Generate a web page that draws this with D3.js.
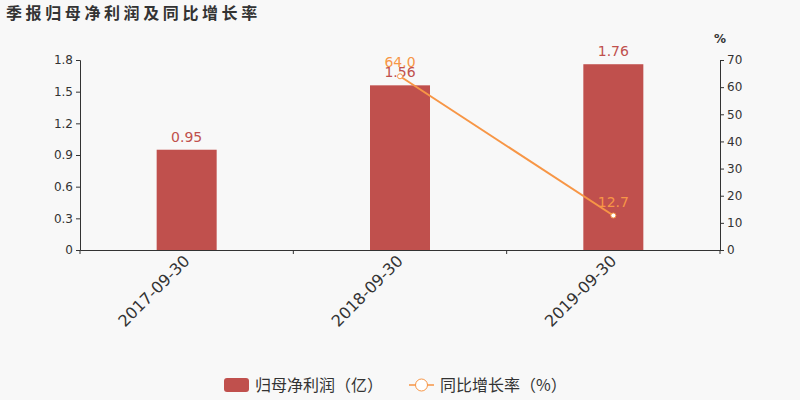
<!DOCTYPE html>
<html><head><meta charset="utf-8">
<script src="https://cdn.jsdelivr.net/npm/d3@7"></script>
<style>body{margin:0;background:#f8f8f8;font-family:"Noto Sans CJK SC","DejaVu Sans",sans-serif}</style>
</head><body><svg id="c" width="800" height="400"></svg>
<script>
const categories = ["2017-09-30", "2018-09-30", "2019-09-30"];
const profit = [0.95, 1.56, 1.76];
const growth = [null, 64.0, 12.7];
const leftTicks = [0, 0.3, 0.6, 0.9, 1.2, 1.5, 1.8];
const rightTicks = [0, 10, 20, 30, 40, 50, 60, 70];

const svg = d3.select("#c");
const L = 80, R = 720, T = 60, B = 250;
const barColor = "#c0504d", lineColor = "#f79646", axisColor = "#333";

svg.append("rect").attr("width", 800).attr("height", 400).attr("fill", "#f8f8f8");
svg.append("text").attr("x", 6).attr("y", 19).attr("font-size", 16).attr("font-weight", "bold")
  .attr("letter-spacing", 3.6).attr("fill", "#333").text("季报归母净利润及同比增长率");

const x = d3.scaleBand().domain(categories).range([L, R]);
const yL = d3.scaleLinear().domain([0, 1.8]).range([B, T]);
const yR = d3.scaleLinear().domain([0, 70]).range([B, T]);

// axes
const fmt = d => d === 0 ? "0" : d3.format(".1f")(d);
const gl = svg.append("g").attr("transform", `translate(${L},0)`)
  .call(d3.axisLeft(yL).tickValues(leftTicks).tickFormat(fmt).tickSize(4));
const gr = svg.append("g").attr("transform", `translate(${R},0)`)
  .call(d3.axisRight(yR).tickValues(rightTicks).tickSize(4));
const gx = svg.append("g").attr("transform", `translate(0,${B})`)
  .call(d3.axisBottom(x).tickSize(0).tickFormat(""));
[gl, gr, gx].forEach(g => {
  g.selectAll("path,line").attr("stroke", axisColor);
  g.selectAll("text").attr("fill", "#333").attr("font-size", 12).attr("font-family", "DejaVu Sans");
});
// boundary ticks on x axis
const bounds = categories.map(c => x(c)).concat([R]);
svg.selectAll(".xt").data(bounds).join("line")
  .attr("x1", d => d).attr("x2", d => d).attr("y1", B).attr("y2", B + 4).attr("stroke", axisColor);

svg.append("text").attr("x", 714).attr("y", 43).attr("font-size", 12).attr("font-family", "DejaVu Sans")
  .attr("font-weight", "bold").attr("fill", "#333").text("%");

// x labels
svg.selectAll(".xl").data(categories).join("text")
  .attr("font-size", 16).attr("font-family", "DejaVu Sans").attr("fill", "#333")
  .attr("text-anchor", "end")
  .attr("transform", d => `translate(${x(d) + x.bandwidth() / 2 + 4},${B + 12}) rotate(-45)`)
  .text(d => d);

// bars
const bw = 60;
svg.selectAll(".bar").data(profit).join("rect")
  .attr("x", (d, i) => x(categories[i]) + x.bandwidth() / 2 - bw / 2)
  .attr("width", bw).attr("y", d => yL(d)).attr("height", d => B - yL(d)).attr("fill", barColor);
svg.selectAll(".bl").data(profit).join("text")
  .attr("x", (d, i) => x(categories[i]) + x.bandwidth() / 2).attr("y", d => yL(d) - 8)
  .attr("text-anchor", "middle").attr("font-size", 14).attr("font-family", "DejaVu Sans")
  .attr("fill", barColor).text(d => d.toFixed(2));

// line
const pts = growth.map((v, i) => ({ v, c: categories[i] })).filter(p => p.v != null);
const line = d3.line().x(p => x(p.c) + x.bandwidth() / 2).y(p => yR(p.v));
svg.append("path").datum(pts).attr("d", line).attr("fill", "none").attr("stroke", lineColor).attr("stroke-width", 2);
svg.selectAll(".pt").data(pts).join("circle")
  .attr("cx", p => x(p.c) + x.bandwidth() / 2).attr("cy", p => yR(p.v)).attr("r", 2.5)
  .attr("fill", "#fff").attr("stroke", lineColor);
svg.selectAll(".pl").data(pts).join("text")
  .attr("x", p => x(p.c) + x.bandwidth() / 2).attr("y", p => yR(p.v) - 9)
  .attr("text-anchor", "middle").attr("font-size", 14).attr("font-family", "DejaVu Sans")
  .attr("fill", lineColor).text(p => p.v.toFixed(1));

// legend
const lg = svg.append("g").attr("transform", "translate(0,385)");
lg.append("rect").attr("x", 224).attr("y", -7).attr("width", 25).attr("height", 14).attr("rx", 3).attr("fill", barColor);
lg.append("text").attr("x", 255).attr("y", 6).attr("font-size", 16).attr("fill", "#333").text("归母净利润（亿）");
lg.append("line").attr("x1", 409).attr("x2", 434).attr("y1", 0).attr("y2", 0).attr("stroke", lineColor).attr("stroke-width", 1.5);
lg.append("circle").attr("cx", 421.5).attr("cy", 0).attr("r", 6).attr("fill", "#fff").attr("stroke", lineColor);
lg.append("text").attr("x", 440).attr("y", 6).attr("font-size", 16).attr("fill", "#333").text("同比增长率（%）");
</script></body></html>
